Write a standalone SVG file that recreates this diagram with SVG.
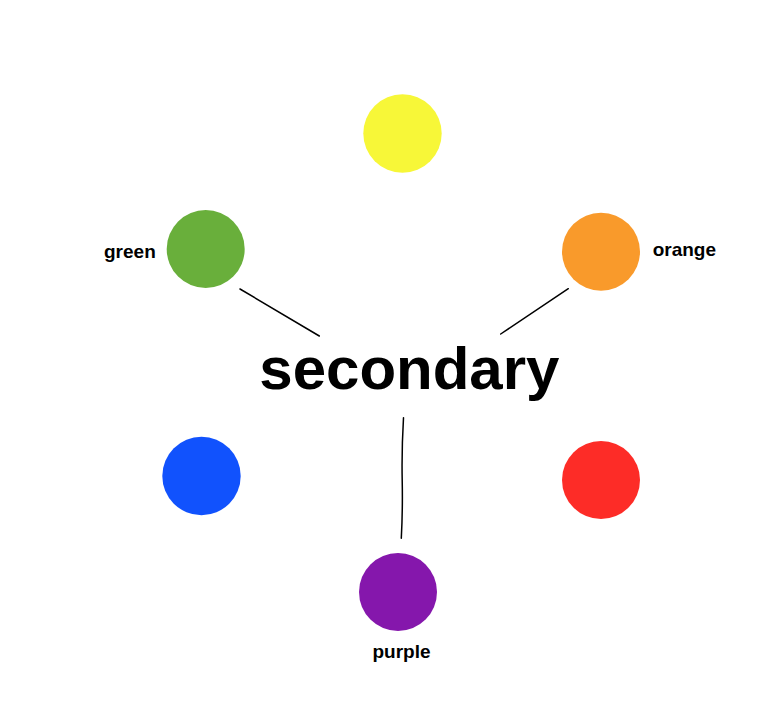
<svg xmlns="http://www.w3.org/2000/svg" width="764" height="716" viewBox="0 0 764 716">
<style>
text { font-family: "Liberation Sans", Arial, sans-serif; font-weight: bold; fill: #000; }
.lbl { font-size: 19px; }
.title { font-size: 60px; }
.conn { stroke: #000; stroke-width: 1.5; fill: none; stroke-linecap: round; }
</style>
<rect width="764" height="716" fill="#fff"/>
<g id="yellow"><circle cx="402.5" cy="133.5" r="39.2" fill="#F7F738"/></g>
<g id="green"><circle cx="205.7" cy="249" r="39" fill="#69AF3B"/><text class="lbl" x="104" y="258">green</text></g>
<g id="orange"><circle cx="601" cy="251.7" r="39" fill="#F99A2B"/><text class="lbl" x="652.7" y="256">orange</text></g>
<g id="blue"><circle cx="201.5" cy="476" r="39.2" fill="#1152FD"/></g>
<g id="red"><circle cx="601" cy="480" r="39" fill="#FD2C27"/></g>
<g id="purple"><circle cx="398" cy="592" r="39" fill="#8517AC"/><text class="lbl" x="372.5" y="658.3">purple</text></g>
<g id="secondary"><text class="title" x="259.3" y="389.3">secondary</text></g>
<g id="connectors">
<line class="conn" x1="240" y1="289" x2="319.3" y2="336"/>
<line class="conn" x1="568.3" y1="288.7" x2="500.7" y2="334"/>
<path class="conn" d="M403.5,417.7 Q401.6,450 402.2,480 Q402.8,510 401.3,538.3"/>
</g>
</svg>
